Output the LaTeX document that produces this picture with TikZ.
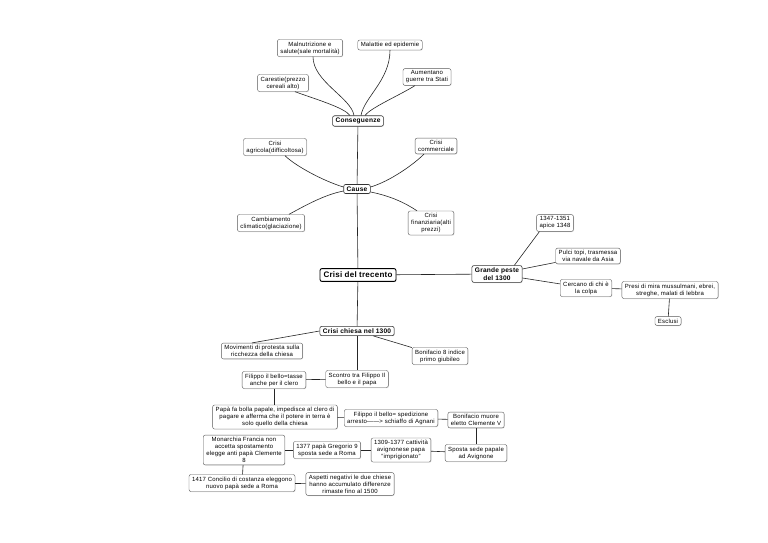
\documentclass[tikz,border=0pt]{standalone}
\usepackage{fontspec}
\setmainfont{Liberation Sans}[LetterSpace=3]
\usetikzlibrary{shadows}
\tikzset{
 box/.style={draw=black!65,line width=.4pt,rounded corners=2pt,fill=white,align=center,inner xsep=3pt,inner ysep=2.2pt,font=\fontsize{6}{7}\selectfont,drop shadow={opacity=.25,shadow xshift=.6pt,shadow yshift=-.6pt}},
 boxb/.style={box,draw=black!80,line width=.6pt,font=\fontsize{6.6}{7.6}\selectfont\bfseries},
 boxm/.style={box,draw=black,line width=.9pt,inner sep=3.5pt,font=\fontsize{8}{9}\selectfont\bfseries},
 conn/.style={draw=black!85,line width=.6pt}}
\begin{document}
\begin{tikzpicture}[x=1pt,y=-1pt]
\useasboundingbox[fill=white](0,0)rectangle(768,543);
\node[box](mal)at(310,48){Malnutrizione e\\salute(sale mortalità)};
\node[box](epi)at(390,45){Malattie ed epidemie};
\node[box](car)at(283,83){Carestie(prezzo\\cereali alto)};
\node[box](gue)at(427,77){Aumentano\\guerre tra Stati};
\node[boxb](con)at(358,121){Conseguenze};
\node[box](agr)at(275,147){Crisi\\agricola(difficoltosa)};
\node[box](com)at(436,146){Crisi\\commerciale};
\node[boxb](cau)at(357,189){Cause};
\node[box](cli)at(271,223){Cambiamento\\climatico(glaciazione)};
\node[box](fin)at(431,223){Crisi\\finanziaria(alti\\prezzi)};
\node[boxm](tre)at(358,275){Crisi del trecento};
\node[boxb](pes)at(497,274){Grande peste\\del 1300};
\node[box](api)at(555,223){1347-1351\\apice 1348};
\node[box](pul)at(588,256){Pulci topi, trasmessa\\via navale da Asia};
\node[box](col)at(586,288){Cercano di chi è\\la colpa};
\node[box](mir)at(670,290){Presi di mira mussulmani, ebrei,\\streghe, malati di lebbra};
\node[box](esc)at(668,321){Esclusi};
\node[boxb](chi)at(357,331){Crisi chiesa nel 1300};
\node[box](mov)at(262,351){Movimenti di protesta sulla\\ricchezza della chiesa};
\node[box](giu)at(440,356){Bonifacio 8 indice\\primo giubileo};
\node[box](sco)at(357,379){Scontro tra Filippo Il\\bello e il papa};
\node[box](tas)at(274,380){Filippo il bello=tasse\\anche per il clero};
\node[box](bol)at(275,417){Papà fa bolla papale, impedisce al clero di\\pagare e afferma che il potere in terra è\\solo quello della chiesa};
\node[box](spe)at(391,418){Filippo il bello= spedizione\\arresto------> schiaffo di Agnani};
\node[box](mor)at(476,420){Bonifacio muore\\eletto Clemente V};
\node[box](avi)at(476,453){Sposta sede papale\\ad Avignone};
\node[box](cat)at(401,450){1309-1377 cattività\\avignonese papa\\"imprigionato"};
\node[box](gre)at(327,450){1377 papà Gregorio 9\\sposta sede a Roma};
\node[box](mon)at(244,450){Monarchia Francia non\\accetta spostamento\\elegge anti papà Clemente\\8};
\node[box](con2)at(242,483){1417 Concilio di costanza eleggono\\nuovo papà sede a Roma};
\node[box](asp)at(350,484){Aspetti negativi le due chiese\\hanno accumulato differenze\\rimaste fino al 1500};
\draw[conn]([xshift=3pt]mal.south)..controls +(0,25) and +(-3,-18)..([xshift=-4pt]con.north);
\draw[conn](epi.south)..controls +(0,30) and +(3,-18)..([xshift=3pt]con.north);
\draw[conn]([xshift=12pt]car.south)..controls +(22,8) and +(-6,-8)..([xshift=-8pt]con.north);
\draw[conn]([xshift=-12pt]gue.south)..controls +(-16,10) and +(6,-8)..([xshift=7pt]con.north);
\draw[conn](con)--(cau);\draw[conn](cau)--(tre);
\draw[conn]([xshift=10pt]agr.south)..controls +(10,10) and +(-20,-6)..([yshift=2pt]cau.west);
\draw[conn]([xshift=-12pt]com.south)..controls +(-10,10) and +(20,-6)..([yshift=2pt]cau.east);
\draw[conn]([xshift=18pt]cli.north)..controls +(15,-8) and +(-20,4)..([yshift=-2pt]cau.west);
\draw[conn]([xshift=-14pt]fin.north)..controls +(-12,-8) and +(20,4)..([yshift=-3pt]cau.east);
\draw[conn](tre)--(pes);\draw[conn](tre)--(chi);
\draw[conn]([xshift=-8pt]pes.north east)--([xshift=3pt]api.south west);
\draw[conn](pes)--(pul);\draw[conn](pes)--(col);
\draw[conn](col)--(mir);\draw[conn](mir)--(esc);
\draw[conn](chi.west)--([xshift=-10pt]mov.north);\draw[conn](chi)--(giu);
\draw[conn](chi)--(sco);\draw[conn](sco)--(tas);
\draw[conn](tas.south)--(tas.south|-bol.north);
\draw[conn](bol)--(spe);\draw[conn](spe)--(mor);\draw[conn](mor)--(avi);
\draw[conn](avi)--(cat);\draw[conn](cat)--(gre);\draw[conn](gre)--(mon);
\draw[conn](mon)--(con2);\draw[conn](con2)--(asp);
\end{tikzpicture}
\end{document}
